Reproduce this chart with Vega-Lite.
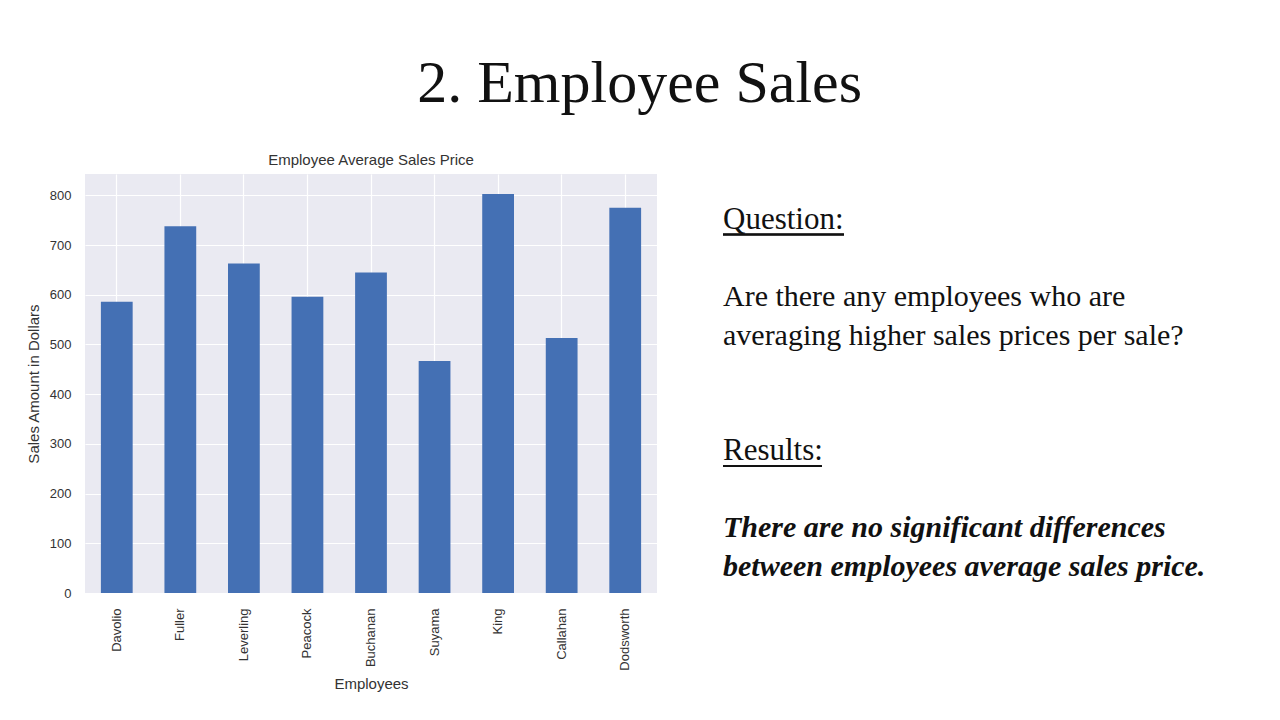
{
  "$schema": "https://vega.github.io/schema/vega-lite/v6.json",
  "background": "white",
  "padding": {"left": 26, "top": 54, "right": 0, "bottom": 0},
  "title": {
    "text": "2. Employee Sales",
    "font": "Liberation Serif",
    "fontSize": 60,
    "fontWeight": "normal",
    "color": "#111111",
    "anchor": "middle",
    "dx": -5,
    "offset": 38
  },
  "datasets": {
    "sales": [
      {"employee": "Davolio", "avg_sale": 586},
      {"employee": "Fuller", "avg_sale": 738},
      {"employee": "Leverling", "avg_sale": 663},
      {"employee": "Peacock", "avg_sale": 596},
      {"employee": "Buchanan", "avg_sale": 645},
      {"employee": "Suyama", "avg_sale": 467},
      {"employee": "King", "avg_sale": 803},
      {"employee": "Callahan", "avg_sale": 513},
      {"employee": "Dodsworth", "avg_sale": 775}
    ],
    "notes": [
      {"line": 0, "part": "heading", "text": "Question:"},
      {"line": 2, "part": "question", "text": "Are there any employees who are"},
      {"line": 3, "part": "question", "text": "averaging higher sales prices per sale?"},
      {"line": 6, "part": "heading", "text": "Results:"},
      {"line": 8, "part": "result", "text": "There are no significant differences"},
      {"line": 9, "part": "result", "text": "between employees average sales price."}
    ]
  },
  "spacing": 65,
  "hconcat": [
    {
      "width": 572,
      "height": 419,
      "data": {"name": "sales"},
      "view": {"fill": "#EAEAF2", "stroke": null},
      "title": {
        "text": "Employee Average Sales Price",
        "font": "Liberation Sans",
        "fontSize": 15,
        "fontWeight": "normal",
        "color": "#333333",
        "offset": 6
      },
      "mark": {"type": "bar", "color": "#4470B4"},
      "encoding": {
        "x": {
          "field": "employee",
          "type": "nominal",
          "sort": null,
          "title": "Employees",
          "scale": {"paddingInner": 0.5, "paddingOuter": 0.25},
          "axis": {
            "labelAngle": -90,
            "labelPadding": 15,
            "titlePadding": 6,
            "grid": true
          }
        },
        "y": {
          "field": "avg_sale",
          "type": "quantitative",
          "title": "Sales Amount in Dollars",
          "scale": {"domain": [0, 843], "nice": false},
          "axis": {
            "values": [0, 100, 200, 300, 400, 500, 600, 700, 800],
            "labelPadding": 14,
            "titlePadding": 8
          }
        }
      }
    },
    {
      "width": 540,
      "height": 419,
      "data": {"name": "notes"},
      "view": {"stroke": null},
      "encoding": {
        "x": {"datum": 0, "type": "quantitative", "scale": {"domain": [0, 1]}, "axis": null},
        "y": {
          "field": "line",
          "type": "quantitative",
          "scale": {"domain": [-1.43, 9.44], "reverse": true, "nice": false, "zero": false},
          "axis": null
        }
      },
      "layer": [
        {
          "transform": [{"filter": "datum.part === 'heading'"}],
          "mark": {"type": "text", "align": "left", "baseline": "alphabetic", "font": "Liberation Serif", "fontSize": 31, "color": "#111111"},
          "encoding": {"text": {"field": "text"}}
        },
        {
          "transform": [{"filter": "datum.part === 'question'"}],
          "mark": {"type": "text", "align": "left", "baseline": "alphabetic", "font": "Liberation Serif", "fontSize": 30, "color": "#111111"},
          "encoding": {"text": {"field": "text"}}
        },
        {
          "transform": [{"filter": "datum.part === 'result'"}],
          "mark": {"type": "text", "align": "left", "baseline": "alphabetic", "font": "Liberation Serif", "fontSize": 30, "fontStyle": "italic", "fontWeight": "bold", "color": "#111111"},
          "encoding": {"text": {"field": "text"}}
        },
        {
          "mark": {"type": "rule", "color": "#111111", "strokeWidth": 1.5},
          "encoding": {
            "x": {"datum": 0, "type": "quantitative"},
            "x2": {"datum": 0.224},
            "y": {"datum": 0.14, "type": "quantitative"}
          }
        },
        {
          "mark": {"type": "rule", "color": "#111111", "strokeWidth": 1.5},
          "encoding": {
            "x": {"datum": 0, "type": "quantitative"},
            "x2": {"datum": 0.183},
            "y": {"datum": 6.15, "type": "quantitative"}
          }
        }
      ]
    }
  ],
  "config": {
    "view": {"stroke": null},
    "axis": {
      "labelFont": "Liberation Sans",
      "labelFontSize": 13,
      "labelColor": "#333333",
      "titleFont": "Liberation Sans",
      "titleFontSize": 15,
      "titleFontWeight": "normal",
      "titleColor": "#333333",
      "domain": false,
      "ticks": false,
      "grid": true,
      "gridColor": "white",
      "gridWidth": 1.2
    }
  }
}
